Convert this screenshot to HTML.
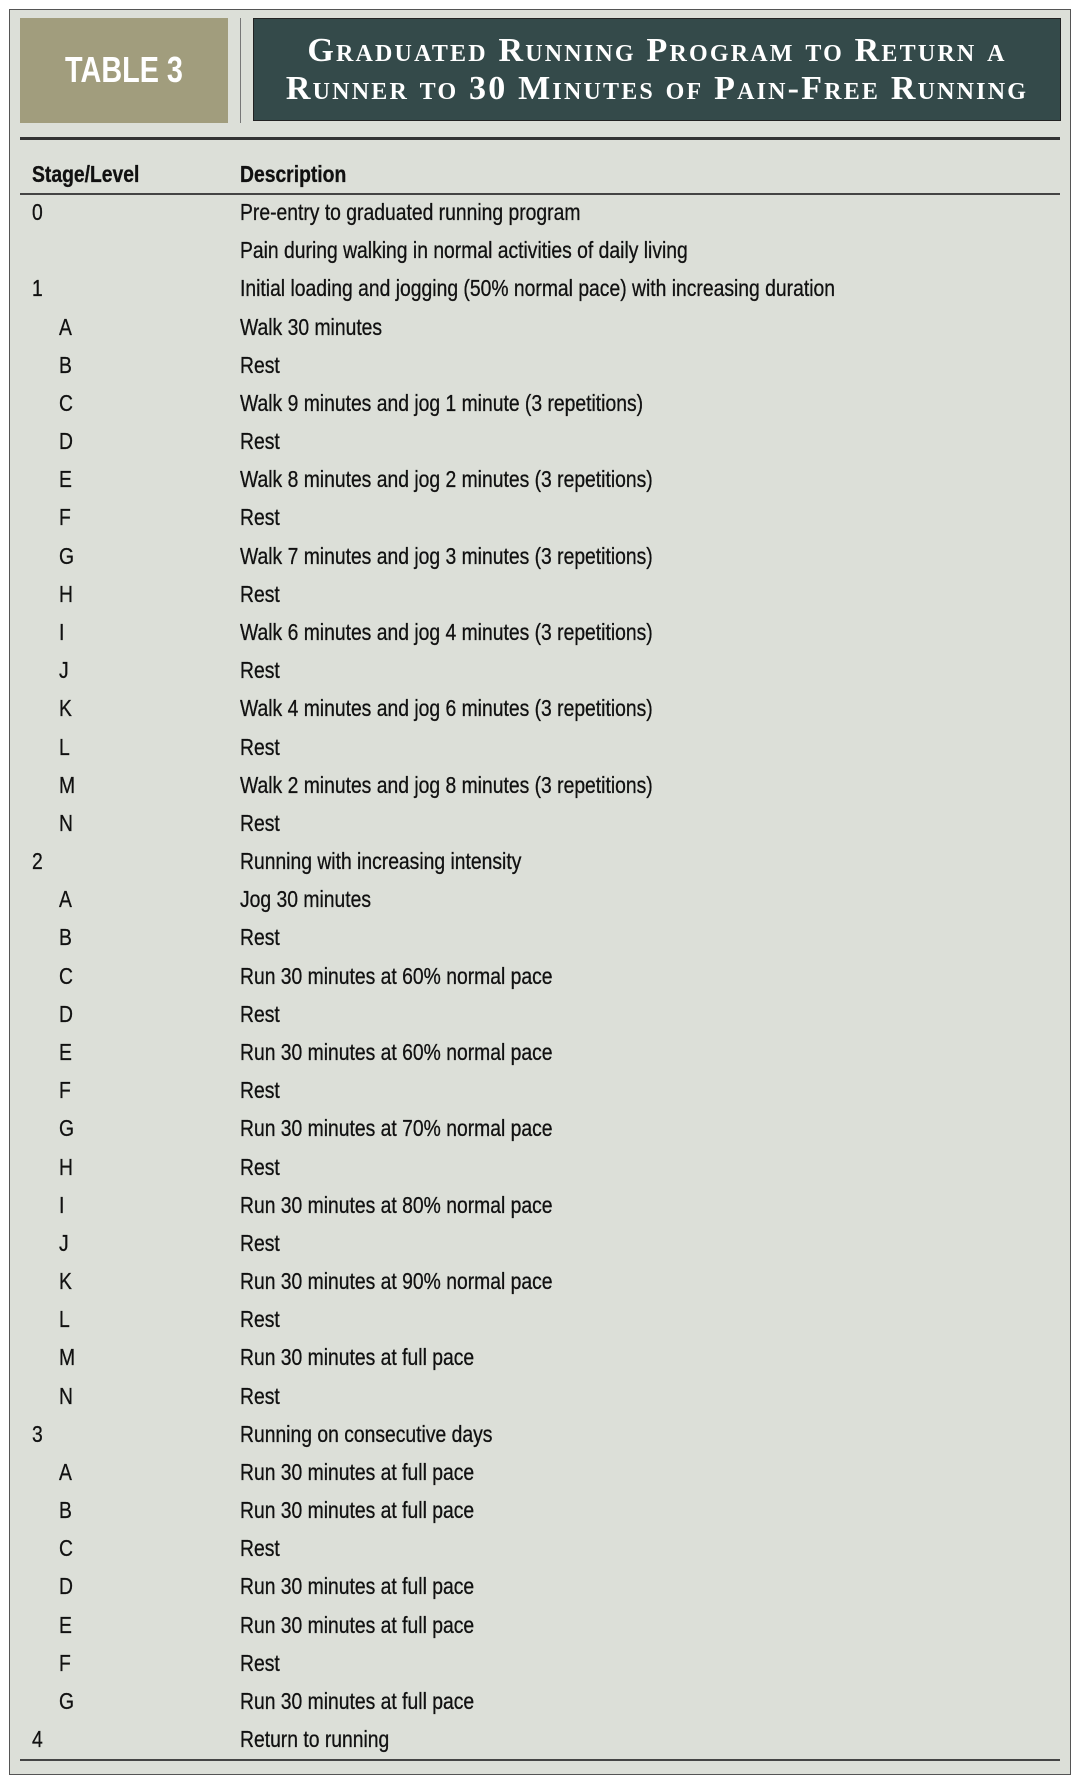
<!DOCTYPE html><html><head><style>
body{margin:0;width:1082px;height:1786px;background:#fff;position:relative;font-family:"Liberation Sans",sans-serif;overflow:hidden}
#o{position:absolute;left:9px;top:9px;width:1060px;height:1764px;border:1px solid #555;background:#dcdfd8}
.a{position:absolute}
.t{position:absolute;font-size:23px;color:#111;transform:scaleX(0.84);transform-origin:left center;white-space:nowrap;line-height:26px;-webkit-text-stroke:0.3px #111}
</style></head><body>
<div id="o"></div>
<div class="a" style="left:20px;top:18px;width:208px;height:105px;background:#a19d7d"></div>
<div class="a" style="left:20px;top:50px;width:208px;text-align:center;color:#fff;font-weight:bold;font-size:36px;transform:scaleX(0.8);line-height:40px">TABLE 3</div>
<div class="a" style="left:240px;top:18px;width:1px;height:105px;background:#777"></div>
<div class="a" style="left:253px;top:18px;width:808px;height:103px;background:#344a4a;border:1px solid #222;box-sizing:border-box"></div>
<div class="a" style="left:253px;top:32px;width:808px;text-align:center;color:#fff;font-family:'Liberation Serif',serif;font-variant:small-caps;font-weight:bold;font-size:34px;line-height:38px;letter-spacing:2.2px">Graduated Running Program to Return a<br>Runner to 30 Minutes of Pain-Free Running</div>
<div class="a" style="left:20px;top:137px;width:1040px;height:3px;background:#333"></div>
<div class="t" style="left:32px;top:161px;font-weight:bold">Stage/Level</div>
<div class="t" style="left:240px;top:161px;font-weight:bold">Description</div>
<div class="a" style="left:20px;top:193px;width:1040px;height:2px;background:#444"></div>
<div class="a" style="left:20px;top:1759px;width:1040px;height:2px;background:#444"></div>
<div id="rows"></div>
<script>
var r=[["0","Pre-entry to graduated running program",0],["","Pain during walking in normal activities of daily living",0],["1","Initial loading and jogging (50% normal pace) with increasing duration",0],
["A","Walk 30 minutes",1],["B","Rest",1],["C","Walk 9 minutes and jog 1 minute (3 repetitions)",1],["D","Rest",1],["E","Walk 8 minutes and jog 2 minutes (3 repetitions)",1],["F","Rest",1],["G","Walk 7 minutes and jog 3 minutes (3 repetitions)",1],["H","Rest",1],["I","Walk 6 minutes and jog 4 minutes (3 repetitions)",1],["J","Rest",1],["K","Walk 4 minutes and jog 6 minutes (3 repetitions)",1],["L","Rest",1],["M","Walk 2 minutes and jog 8 minutes (3 repetitions)",1],["N","Rest",1],
["2","Running with increasing intensity",0],["A","Jog 30 minutes",1],["B","Rest",1],["C","Run 30 minutes at 60% normal pace",1],["D","Rest",1],["E","Run 30 minutes at 60% normal pace",1],["F","Rest",1],["G","Run 30 minutes at 70% normal pace",1],["H","Rest",1],["I","Run 30 minutes at 80% normal pace",1],["J","Rest",1],["K","Run 30 minutes at 90% normal pace",1],["L","Rest",1],["M","Run 30 minutes at full pace",1],["N","Rest",1],
["3","Running on consecutive days",0],["A","Run 30 minutes at full pace",1],["B","Run 30 minutes at full pace",1],["C","Rest",1],["D","Run 30 minutes at full pace",1],["E","Run 30 minutes at full pace",1],["F","Rest",1],["G","Run 30 minutes at full pace",1],["4","Return to running",0]];
var h="";r.forEach(function(x,i){var y=212+i*38.18-13;h+='<div class="t" style="left:'+(x[2]?59:32)+'px;top:'+y+'px">'+x[0]+'</div><div class="t" style="left:240px;top:'+y+'px">'+x[1]+'</div>';});
document.getElementById("rows").innerHTML=h;
</script>
</body></html>
